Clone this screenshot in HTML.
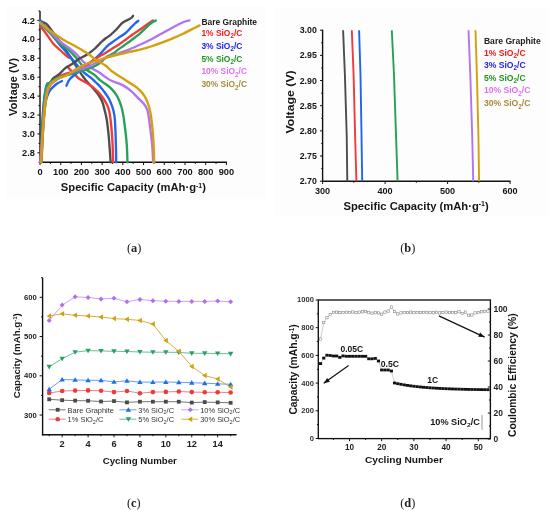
<!DOCTYPE html><html><head><meta charset="utf-8"><title>Figure</title><style>html,body{margin:0;padding:0;background:#fff;}svg{display:block;}</style></head><body>
<svg width="550" height="520" viewBox="0 0 550 520">
<rect width="550" height="520" fill="#ffffff"/>
<rect x="6" y="6.2" width="260" height="192.4" fill="#fdfdfd"/>
<rect x="274.5" y="7.6" width="273.5" height="208.1" fill="#fdfdfd"/>
<line x1="40" y1="11" x2="40" y2="163" stroke="#111" stroke-width="1.4"/>
<line x1="39.3" y1="162.3" x2="227" y2="162.3" stroke="#111" stroke-width="1.4"/>
<line x1="40" y1="162.3" x2="40" y2="165.1" stroke="#111" stroke-width="1"/>
<line x1="50.36" y1="162.3" x2="50.36" y2="163.9" stroke="#111" stroke-width="1"/>
<line x1="60.71" y1="162.3" x2="60.71" y2="165.1" stroke="#111" stroke-width="1"/>
<line x1="71.06" y1="162.3" x2="71.06" y2="163.9" stroke="#111" stroke-width="1"/>
<line x1="81.42" y1="162.3" x2="81.42" y2="165.1" stroke="#111" stroke-width="1"/>
<line x1="91.78" y1="162.3" x2="91.78" y2="163.9" stroke="#111" stroke-width="1"/>
<line x1="102.13" y1="162.3" x2="102.13" y2="165.1" stroke="#111" stroke-width="1"/>
<line x1="112.48" y1="162.3" x2="112.48" y2="163.9" stroke="#111" stroke-width="1"/>
<line x1="122.84" y1="162.3" x2="122.84" y2="165.1" stroke="#111" stroke-width="1"/>
<line x1="133.19" y1="162.3" x2="133.19" y2="163.9" stroke="#111" stroke-width="1"/>
<line x1="143.55" y1="162.3" x2="143.55" y2="165.1" stroke="#111" stroke-width="1"/>
<line x1="153.91" y1="162.3" x2="153.91" y2="163.9" stroke="#111" stroke-width="1"/>
<line x1="164.26" y1="162.3" x2="164.26" y2="165.1" stroke="#111" stroke-width="1"/>
<line x1="174.62" y1="162.3" x2="174.62" y2="163.9" stroke="#111" stroke-width="1"/>
<line x1="184.97" y1="162.3" x2="184.97" y2="165.1" stroke="#111" stroke-width="1"/>
<line x1="195.33" y1="162.3" x2="195.33" y2="163.9" stroke="#111" stroke-width="1"/>
<line x1="205.68" y1="162.3" x2="205.68" y2="165.1" stroke="#111" stroke-width="1"/>
<line x1="216.03" y1="162.3" x2="216.03" y2="163.9" stroke="#111" stroke-width="1"/>
<line x1="226.39" y1="162.3" x2="226.39" y2="165.1" stroke="#111" stroke-width="1"/>
<line x1="38.5" y1="162.3" x2="40" y2="162.3" stroke="#111" stroke-width="1"/>
<line x1="37.4" y1="152.84" x2="40" y2="152.84" stroke="#111" stroke-width="1"/>
<line x1="38.5" y1="143.38" x2="40" y2="143.38" stroke="#111" stroke-width="1"/>
<line x1="37.4" y1="133.92" x2="40" y2="133.92" stroke="#111" stroke-width="1"/>
<line x1="38.5" y1="124.46" x2="40" y2="124.46" stroke="#111" stroke-width="1"/>
<line x1="37.4" y1="115" x2="40" y2="115" stroke="#111" stroke-width="1"/>
<line x1="38.5" y1="105.54" x2="40" y2="105.54" stroke="#111" stroke-width="1"/>
<line x1="37.4" y1="96.08" x2="40" y2="96.08" stroke="#111" stroke-width="1"/>
<line x1="38.5" y1="86.62" x2="40" y2="86.62" stroke="#111" stroke-width="1"/>
<line x1="37.4" y1="77.16" x2="40" y2="77.16" stroke="#111" stroke-width="1"/>
<line x1="38.5" y1="67.7" x2="40" y2="67.7" stroke="#111" stroke-width="1"/>
<line x1="37.4" y1="58.24" x2="40" y2="58.24" stroke="#111" stroke-width="1"/>
<line x1="38.5" y1="48.78" x2="40" y2="48.78" stroke="#111" stroke-width="1"/>
<line x1="37.4" y1="39.32" x2="40" y2="39.32" stroke="#111" stroke-width="1"/>
<line x1="38.5" y1="29.86" x2="40" y2="29.86" stroke="#111" stroke-width="1"/>
<line x1="37.4" y1="20.4" x2="40" y2="20.4" stroke="#111" stroke-width="1"/>
<line x1="38.5" y1="10.94" x2="40" y2="10.94" stroke="#111" stroke-width="1"/>
<text transform="translate(34.8,23.5) scale(1.07,1)" font-size="8.6" font-weight="bold" fill="#161616" text-anchor="end" font-family="'Liberation Sans', Arial, sans-serif">4.2</text>
<text transform="translate(34.8,42.42) scale(1.07,1)" font-size="8.6" font-weight="bold" fill="#161616" text-anchor="end" font-family="'Liberation Sans', Arial, sans-serif">4.0</text>
<text transform="translate(34.8,61.34) scale(1.07,1)" font-size="8.6" font-weight="bold" fill="#161616" text-anchor="end" font-family="'Liberation Sans', Arial, sans-serif">3.8</text>
<text transform="translate(34.8,80.26) scale(1.07,1)" font-size="8.6" font-weight="bold" fill="#161616" text-anchor="end" font-family="'Liberation Sans', Arial, sans-serif">3.6</text>
<text transform="translate(34.8,99.18) scale(1.07,1)" font-size="8.6" font-weight="bold" fill="#161616" text-anchor="end" font-family="'Liberation Sans', Arial, sans-serif">3.4</text>
<text transform="translate(34.8,118.1) scale(1.07,1)" font-size="8.6" font-weight="bold" fill="#161616" text-anchor="end" font-family="'Liberation Sans', Arial, sans-serif">3.2</text>
<text transform="translate(34.8,137.02) scale(1.07,1)" font-size="8.6" font-weight="bold" fill="#161616" text-anchor="end" font-family="'Liberation Sans', Arial, sans-serif">3.0</text>
<text transform="translate(34.8,155.94) scale(1.07,1)" font-size="8.6" font-weight="bold" fill="#161616" text-anchor="end" font-family="'Liberation Sans', Arial, sans-serif">2.8</text>
<text transform="translate(40,174.7) scale(1.08,1)" font-size="8.6" font-weight="bold" fill="#161616" text-anchor="middle" font-family="'Liberation Sans', Arial, sans-serif">0</text>
<text transform="translate(60.71,174.7) scale(1.08,1)" font-size="8.6" font-weight="bold" fill="#161616" text-anchor="middle" font-family="'Liberation Sans', Arial, sans-serif">100</text>
<text transform="translate(81.42,174.7) scale(1.08,1)" font-size="8.6" font-weight="bold" fill="#161616" text-anchor="middle" font-family="'Liberation Sans', Arial, sans-serif">200</text>
<text transform="translate(102.13,174.7) scale(1.08,1)" font-size="8.6" font-weight="bold" fill="#161616" text-anchor="middle" font-family="'Liberation Sans', Arial, sans-serif">300</text>
<text transform="translate(122.84,174.7) scale(1.08,1)" font-size="8.6" font-weight="bold" fill="#161616" text-anchor="middle" font-family="'Liberation Sans', Arial, sans-serif">400</text>
<text transform="translate(143.55,174.7) scale(1.08,1)" font-size="8.6" font-weight="bold" fill="#161616" text-anchor="middle" font-family="'Liberation Sans', Arial, sans-serif">500</text>
<text transform="translate(164.26,174.7) scale(1.08,1)" font-size="8.6" font-weight="bold" fill="#161616" text-anchor="middle" font-family="'Liberation Sans', Arial, sans-serif">600</text>
<text transform="translate(184.97,174.7) scale(1.08,1)" font-size="8.6" font-weight="bold" fill="#161616" text-anchor="middle" font-family="'Liberation Sans', Arial, sans-serif">700</text>
<text transform="translate(205.68,174.7) scale(1.08,1)" font-size="8.6" font-weight="bold" fill="#161616" text-anchor="middle" font-family="'Liberation Sans', Arial, sans-serif">800</text>
<text transform="translate(226.39,174.7) scale(1.08,1)" font-size="8.6" font-weight="bold" fill="#161616" text-anchor="middle" font-family="'Liberation Sans', Arial, sans-serif">900</text>
<text transform="translate(60.8,191) scale(1.1,1)" font-size="10.2" font-weight="bold" fill="#161616" text-anchor="start" font-family="'Liberation Sans', Arial, sans-serif">Specific Capacity (mAh&#183;g<tspan font-size="0.62em" dy="-0.55em">-1</tspan><tspan dy="0.341em">)</tspan></text>
<text transform="translate(17.3,116.1) rotate(-90) scale(1.13,1)" font-size="10" font-weight="bold" fill="#161616" text-anchor="start" font-family="'Liberation Sans', Arial, sans-serif">Voltage (V)</text>
<path d="M40,21.5 C40.58,21.63 42.3,21.78 43.5,22.3 C44.7,22.82 45.78,23.15 47.2,24.6 C48.62,26.05 50.2,28.6 52,31 C53.8,33.4 55.67,35.75 58,39 C60.33,42.25 63.5,46.83 66,50.5 C68.5,54.17 70.85,57.63 73,61 C75.15,64.37 76.73,67.45 78.9,70.7 C81.07,73.95 83.82,77.78 86,80.5 C88.18,83.22 90.08,84.83 92,87 C93.92,89.17 95.83,91.17 97.5,93.5 C99.17,95.83 100.78,98.12 102,101 C103.22,103.88 104,107.63 104.8,110.8 C105.6,113.97 106.17,115.97 106.8,120 C107.43,124.03 108.1,130 108.6,135 C109.1,140 109.47,145.45 109.8,150 C110.13,154.55 110.47,160.25 110.6,162.3" fill="none" stroke="#4d4d4d" stroke-width="2.35" stroke-linecap="round" stroke-linejoin="round"/>
<path d="M40.3,26.2 C41.25,27.42 43.82,30.57 46,33.5 C48.18,36.43 51.07,41.05 53.4,43.8 C55.73,46.55 58.07,48.22 60,50 C61.93,51.78 63.47,53.2 65,54.5 C66.53,55.8 68.5,57.25 69.2,57.8" fill="none" stroke="#f23a3a" stroke-width="2.35" stroke-linecap="round" stroke-linejoin="round"/>
<path d="M67.5,66.7 C67.92,67.17 69.08,68.48 70,69.5 C70.92,70.52 71.92,71.67 73,72.8 C74.08,73.93 75.33,75.22 76.5,76.3 C77.67,77.38 78.35,78.22 80,79.3 C81.65,80.38 84.43,81.62 86.4,82.8 C88.37,83.98 90.2,85.2 91.8,86.4 C93.4,87.6 94.63,88.73 96,90 C97.37,91.27 98.57,92.27 100,94 C101.43,95.73 103.25,98.18 104.6,100.4 C105.95,102.62 107.23,105 108.1,107.3 C108.97,109.6 109.38,112.08 109.8,114.2 C110.22,116.32 110.27,117.03 110.6,120 C110.93,122.97 111.47,127.83 111.8,132 C112.13,136.17 112.38,139.95 112.6,145 C112.82,150.05 113.02,159.42 113.1,162.3" fill="none" stroke="#f23a3a" stroke-width="2.35" stroke-linecap="round" stroke-linejoin="round"/>
<path d="M40,20 C41.67,22.08 46.67,28.33 50,32.5 C53.33,36.67 57.57,42.08 60,45 C62.43,47.92 62.93,48.08 64.6,50 C66.27,51.92 68.27,54.42 70,56.5 C71.73,58.58 73.5,60.7 75,62.5 C76.5,64.3 77.4,65.53 79,67.3 C80.6,69.07 82.63,71.37 84.6,73.1 C86.57,74.83 88.9,76.13 90.8,77.7 C92.7,79.27 94.47,81.03 96,82.5 C97.53,83.97 98.57,84.87 100,86.5 C101.43,88.13 103.07,90.18 104.6,92.3 C106.13,94.42 107.88,96.7 109.2,99.2 C110.52,101.7 111.67,104.8 112.5,107.3 C113.33,109.8 113.8,112.08 114.2,114.2 C114.6,116.32 114.67,116.53 114.9,120 C115.13,123.47 115.42,130 115.6,135 C115.78,140 115.9,145.45 116,150 C116.1,154.55 116.17,160.25 116.2,162.3" fill="none" stroke="#1f66ee" stroke-width="2.35" stroke-linecap="round" stroke-linejoin="round"/>
<path d="M40,23.8 C41.67,25.33 46.67,29.67 50,33 C53.33,36.33 57.05,41.1 60,43.8 C62.95,46.5 65.13,47.02 67.7,49.2 C70.27,51.38 73.1,54.33 75.4,56.9 C77.7,59.47 79.58,62.42 81.5,64.6 C83.42,66.78 84.72,68.27 86.9,70 C89.08,71.73 92.42,73.3 94.6,75 C96.78,76.7 98.13,78.67 100,80.2 C101.87,81.73 103.88,82.77 105.8,84.2 C107.72,85.63 109.77,87.07 111.5,88.8 C113.23,90.53 114.85,92.48 116.2,94.6 C117.55,96.72 118.65,99.18 119.6,101.5 C120.55,103.82 121.28,106.18 121.9,108.5 C122.52,110.82 122.95,113.48 123.3,115.4 C123.65,117.32 123.63,117.23 124,120 C124.37,122.77 125.03,127.83 125.5,132 C125.97,136.17 126.47,139.95 126.8,145 C127.13,150.05 127.38,159.42 127.5,162.3" fill="none" stroke="#27a157" stroke-width="2.35" stroke-linecap="round" stroke-linejoin="round"/>
<path d="M40,23 C41.67,24.42 46.67,28.42 50,31.5 C53.33,34.58 57.05,38.93 60,41.5 C62.95,44.07 65.13,44.97 67.7,46.9 C70.27,48.83 72.83,50.67 75.4,53.1 C77.97,55.53 80.53,59.07 83.1,61.5 C85.67,63.93 87.98,65.78 90.8,67.7 C93.62,69.62 97.5,71.4 100,73 C102.5,74.6 103.88,76 105.8,77.3 C107.72,78.6 108.62,79.45 111.5,80.8 C114.38,82.15 119.82,83.67 123.1,85.4 C126.38,87.13 128.7,89.08 131.2,91.2 C133.7,93.32 136,96 138.1,98.1 C140.2,100.2 142.28,101.88 143.8,103.8 C145.32,105.72 146.42,107.67 147.2,109.6 C147.98,111.53 148.17,113.67 148.5,115.4 C148.83,117.13 148.83,117.23 149.2,120 C149.57,122.77 150.2,127.83 150.7,132 C151.2,136.17 151.78,139.95 152.2,145 C152.62,150.05 153.03,159.42 153.2,162.3" fill="none" stroke="#b473ee" stroke-width="2.35" stroke-linecap="round" stroke-linejoin="round"/>
<path d="M40.6,162.3 C40.83,156.58 41.43,138.22 42,128 C42.57,117.78 43.3,107.5 44,101 C44.7,94.5 45.28,91.83 46.2,89 C47.12,86.17 48.3,85.82 49.5,84 C50.7,82.18 51.73,79.77 53.4,78.1 C55.07,76.43 57.57,75.63 59.5,74 C61.43,72.37 62.97,69.93 65,68.3 C67.03,66.67 69.33,65.78 71.7,64.2 C74.07,62.62 77.15,60.12 79.2,58.8 C81.25,57.48 82.33,57.25 84,56.3 C85.67,55.35 87.37,54.4 89.2,53.1 C91.03,51.8 92.88,50.43 95,48.5 C97.12,46.57 100.07,43.25 101.9,41.5 C103.73,39.75 104.65,39.03 106,38 C107.35,36.97 108.37,36.63 110,35.3 C111.63,33.97 113.88,31.93 115.8,30 C117.72,28.07 119.97,25.17 121.5,23.7 C123.03,22.23 123.83,21.88 125,21.2 C126.17,20.52 127.35,20.25 128.5,19.6 C129.65,18.95 131.13,17.93 131.9,17.3 C132.67,16.67 132.9,16.05 133.1,15.8" fill="none" stroke="#4d4d4d" stroke-width="2.35" stroke-linecap="round" stroke-linejoin="round"/>
<path d="M41.5,162.3 C41.78,156.58 42.55,137.72 43.2,128 C43.85,118.28 44.67,109.43 45.4,104 C46.13,98.57 46.83,97.65 47.6,95.4 C48.37,93.15 49.2,91.8 50,90.5 C50.8,89.2 51.2,88.77 52.4,87.6 C53.6,86.43 55.6,84.6 57.2,83.5 C58.8,82.4 61.2,81.42 62,81" fill="none" stroke="#1f66ee" stroke-width="2.35" stroke-linecap="round" stroke-linejoin="round"/>
<path d="M66.4,85.8 C66.72,85.08 67.58,82.78 68.3,81.5 C69.02,80.22 69.33,79.43 70.7,78.1 C72.07,76.77 74.62,75.02 76.5,73.5 C78.38,71.98 79.95,70.62 82,69 C84.05,67.38 86.97,65.22 88.8,63.8 C90.63,62.38 91.22,62.03 93,60.5 C94.78,58.97 97.25,56.88 99.5,54.6 C101.75,52.32 104.6,48.7 106.5,46.8 C108.4,44.9 108.97,44.65 110.9,43.2 C112.83,41.75 115.75,39.72 118.1,38.1 C120.45,36.48 122.88,35.23 125,33.5 C127.12,31.77 129.13,29.37 130.8,27.7 C132.47,26.03 133.75,24.65 135,23.5 C136.25,22.35 137.75,21.25 138.3,20.8" fill="none" stroke="#1f66ee" stroke-width="2.35" stroke-linecap="round" stroke-linejoin="round"/>
<path d="M41.3,162.3 C41.67,155.58 42.72,132.72 43.5,122 C44.28,111.28 45.08,103.67 46,98 C46.92,92.33 48.25,90.25 49,88 C49.75,85.75 49.33,86 50.5,84.5 C51.67,83 54.08,80.55 56,79 C57.92,77.45 59.38,76.4 62,75.2 C64.62,74 68.48,73.08 71.7,71.8 C74.92,70.52 77.95,69.23 81.3,67.5 C84.65,65.77 88.93,63.15 91.8,61.4 C94.67,59.65 96.3,58.37 98.5,57 C100.7,55.63 102.7,54.62 105,53.2 C107.3,51.78 109.97,49.95 112.3,48.5 C114.63,47.05 116.68,46.05 119,44.5 C121.32,42.95 123.87,40.92 126.2,39.2 C128.53,37.48 130.5,35.93 133,34.2 C135.5,32.47 138.87,30.42 141.2,28.8 C143.53,27.18 145.05,25.9 147,24.5 C148.95,23.1 151.92,21.08 152.9,20.4" fill="none" stroke="#f23a3a" stroke-width="2.35" stroke-linecap="round" stroke-linejoin="round"/>
<path d="M40.9,162.3 C41.18,156.08 42.12,134.55 42.6,125 C43.08,115.45 43.33,110.83 43.8,105 C44.27,99.17 44.85,93.53 45.4,90 C45.95,86.47 46.42,85.02 47.1,83.8 C47.78,82.58 47.82,83.65 49.5,82.7 C51.18,81.75 54.32,79.35 57.2,78.1 C60.08,76.85 63.58,76.13 66.8,75.2 C70.02,74.27 73.4,73.37 76.5,72.5 C79.6,71.63 82.77,70.87 85.4,70 C88.03,69.13 89.87,68.47 92.3,67.3 C94.73,66.13 97.63,64.72 100,63 C102.37,61.28 104.23,58.63 106.5,57 C108.77,55.37 111.67,54.43 113.6,53.2 C115.53,51.97 116.37,50.88 118.1,49.6 C119.83,48.32 122.08,46.85 124,45.5 C125.92,44.15 127.68,42.92 129.6,41.5 C131.52,40.08 133.57,38.53 135.5,37 C137.43,35.47 139.1,34.17 141.2,32.3 C143.3,30.43 146.3,27.43 148.1,25.8 C149.9,24.17 150.72,23.38 152,22.5 C153.28,21.62 155.17,20.83 155.8,20.5" fill="none" stroke="#27a157" stroke-width="2.35" stroke-linecap="round" stroke-linejoin="round"/>
<path d="M40.3,162.3 C40.63,157.75 41.62,144.05 42.3,135 C42.98,125.95 43.75,114.67 44.4,108 C45.05,101.33 45.5,98.55 46.2,95 C46.9,91.45 46.77,89.28 48.6,86.7 C50.43,84.12 54.17,81.45 57.2,79.5 C60.23,77.55 63.77,76.45 66.8,75 C69.83,73.55 72.05,72.15 75.4,70.8 C78.75,69.45 83.63,68.12 86.9,66.9 C90.17,65.68 91.73,65.03 95,63.5 C98.27,61.97 102.65,59.37 106.5,57.7 C110.35,56.03 114.25,54.9 118.1,53.5 C121.95,52.1 125.78,50.83 129.6,49.3 C133.42,47.77 137.45,45.93 141,44.3 C144.55,42.67 147.43,41.3 150.9,39.5 C154.37,37.7 158.17,35.5 161.8,33.5 C165.43,31.5 169.07,29.42 172.7,27.5 C176.33,25.58 180.82,23.18 183.6,22 C186.38,20.82 188.43,20.67 189.4,20.4" fill="none" stroke="#b473ee" stroke-width="2.35" stroke-linecap="round" stroke-linejoin="round"/>
<path d="M41.2,162.3 C41.5,156.92 42.33,139.55 43,130 C43.67,120.45 44.43,111.42 45.2,105 C45.97,98.58 46.72,95.03 47.6,91.5 C48.48,87.97 48.9,85.88 50.5,83.8 C52.1,81.72 54.48,80.43 57.2,79 C59.92,77.57 63.77,76.78 66.8,75.2 C69.83,73.62 72.68,71.13 75.4,69.5 C78.12,67.87 80.53,66.6 83.1,65.4 C85.67,64.2 87.98,63.23 90.8,62.3 C93.62,61.37 97.38,60.6 100,59.8 C102.62,59 103.48,58.38 106.5,57.5 C109.52,56.62 114.25,55.43 118.1,54.5 C121.95,53.57 125.78,52.75 129.6,51.9 C133.42,51.05 137.45,50.3 141,49.4 C144.55,48.5 147.43,47.62 150.9,46.5 C154.37,45.38 158.17,44.05 161.8,42.7 C165.43,41.35 169.07,39.93 172.7,38.4 C176.33,36.87 179.97,35.23 183.6,33.5 C187.23,31.77 191.83,29.35 194.5,28 C197.17,26.65 198.75,25.83 199.6,25.4" fill="none" stroke="#d3a00c" stroke-width="2.35" stroke-linecap="round" stroke-linejoin="round"/>
<path d="M40,22.3 C41,23.17 43.77,25.72 46,27.5 C48.23,29.28 50.43,30.92 53.4,33 C56.37,35.08 60.13,37.8 63.8,40 C67.47,42.2 71.55,44.02 75.4,46.2 C79.25,48.38 83.43,50.8 86.9,53.1 C90.37,55.4 94.02,58.47 96.2,60 C98.38,61.53 98.4,61.33 100,62.3 C101.6,63.27 103.88,64.35 105.8,65.8 C107.72,67.25 109.58,69.47 111.5,71 C113.42,72.53 115.37,73.75 117.3,75 C119.23,76.25 120.98,77.15 123.1,78.5 C125.22,79.85 127.7,81.57 130,83.1 C132.3,84.63 134.78,85.97 136.9,87.7 C139.02,89.43 141.15,91.58 142.7,93.5 C144.25,95.42 145.18,97.12 146.2,99.2 C147.22,101.28 148.08,103.7 148.8,106 C149.52,108.3 150.05,110.67 150.5,113 C150.95,115.33 151.08,116.33 151.5,120 C151.92,123.67 152.62,130 153,135 C153.38,140 153.6,145.45 153.8,150 C154,154.55 154.13,160.25 154.2,162.3" fill="none" stroke="#d3a00c" stroke-width="2.35" stroke-linecap="round" stroke-linejoin="round"/>
<text transform="translate(201.4,24.7) scale(0.98,1)" font-size="8.6" font-weight="bold" fill="#222222" text-anchor="start" font-family="'Liberation Sans', Arial, sans-serif">Bare Graphite</text>
<text transform="translate(201.4,36) scale(0.98,1)" font-size="8.6" font-weight="bold" fill="#f01818" text-anchor="start" font-family="'Liberation Sans', Arial, sans-serif">1% SiO<tspan font-size="0.74em" dy="0.34em">2</tspan><tspan dy="-0.2516em">/C</tspan></text>
<text transform="translate(201.4,48.6) scale(0.98,1)" font-size="8.6" font-weight="bold" fill="#2323e6" text-anchor="start" font-family="'Liberation Sans', Arial, sans-serif">3% SiO<tspan font-size="0.74em" dy="0.34em">2</tspan><tspan dy="-0.2516em">/C</tspan></text>
<text transform="translate(201.4,61.6) scale(0.98,1)" font-size="8.6" font-weight="bold" fill="#1f961f" text-anchor="start" font-family="'Liberation Sans', Arial, sans-serif">5% SiO<tspan font-size="0.74em" dy="0.34em">2</tspan><tspan dy="-0.2516em">/C</tspan></text>
<text transform="translate(201.4,74.4) scale(0.98,1)" font-size="8.6" font-weight="bold" fill="#e070f0" text-anchor="start" font-family="'Liberation Sans', Arial, sans-serif">10% SiO<tspan font-size="0.74em" dy="0.34em">2</tspan><tspan dy="-0.2516em">/C</tspan></text>
<text transform="translate(201.4,87.4) scale(0.98,1)" font-size="8.6" font-weight="bold" fill="#a8883a" text-anchor="start" font-family="'Liberation Sans', Arial, sans-serif">30% SiO<tspan font-size="0.74em" dy="0.34em">2</tspan><tspan dy="-0.2516em">/C</tspan></text>
<line x1="322.6" y1="29.7" x2="322.6" y2="181.9" stroke="#111" stroke-width="1.4"/>
<line x1="321.9" y1="181.2" x2="510.5" y2="181.2" stroke="#111" stroke-width="1.4"/>
<line x1="320" y1="181.2" x2="322.6" y2="181.2" stroke="#111" stroke-width="1"/>
<text transform="translate(316.8,184.2) scale(1.05,1)" font-size="8.4" font-weight="bold" fill="#161616" text-anchor="end" font-family="'Liberation Sans', Arial, sans-serif">2.70</text>
<line x1="321.2" y1="168.62" x2="322.6" y2="168.62" stroke="#111" stroke-width="1"/>
<line x1="320" y1="156.04" x2="322.6" y2="156.04" stroke="#111" stroke-width="1"/>
<text transform="translate(316.8,159.04) scale(1.05,1)" font-size="8.4" font-weight="bold" fill="#161616" text-anchor="end" font-family="'Liberation Sans', Arial, sans-serif">2.75</text>
<line x1="321.2" y1="143.45" x2="322.6" y2="143.45" stroke="#111" stroke-width="1"/>
<line x1="320" y1="130.87" x2="322.6" y2="130.87" stroke="#111" stroke-width="1"/>
<text transform="translate(316.8,133.87) scale(1.05,1)" font-size="8.4" font-weight="bold" fill="#161616" text-anchor="end" font-family="'Liberation Sans', Arial, sans-serif">2.80</text>
<line x1="321.2" y1="118.29" x2="322.6" y2="118.29" stroke="#111" stroke-width="1"/>
<line x1="320" y1="105.71" x2="322.6" y2="105.71" stroke="#111" stroke-width="1"/>
<text transform="translate(316.8,108.71) scale(1.05,1)" font-size="8.4" font-weight="bold" fill="#161616" text-anchor="end" font-family="'Liberation Sans', Arial, sans-serif">2.85</text>
<line x1="321.2" y1="93.12" x2="322.6" y2="93.12" stroke="#111" stroke-width="1"/>
<line x1="320" y1="80.54" x2="322.6" y2="80.54" stroke="#111" stroke-width="1"/>
<text transform="translate(316.8,83.54) scale(1.05,1)" font-size="8.4" font-weight="bold" fill="#161616" text-anchor="end" font-family="'Liberation Sans', Arial, sans-serif">2.90</text>
<line x1="321.2" y1="67.96" x2="322.6" y2="67.96" stroke="#111" stroke-width="1"/>
<line x1="320" y1="55.37" x2="322.6" y2="55.37" stroke="#111" stroke-width="1"/>
<text transform="translate(316.8,58.37) scale(1.05,1)" font-size="8.4" font-weight="bold" fill="#161616" text-anchor="end" font-family="'Liberation Sans', Arial, sans-serif">2.95</text>
<line x1="321.2" y1="42.79" x2="322.6" y2="42.79" stroke="#111" stroke-width="1"/>
<line x1="320" y1="30.21" x2="322.6" y2="30.21" stroke="#111" stroke-width="1"/>
<text transform="translate(316.8,33.21) scale(1.05,1)" font-size="8.4" font-weight="bold" fill="#161616" text-anchor="end" font-family="'Liberation Sans', Arial, sans-serif">3.00</text>
<line x1="322.6" y1="181.2" x2="322.6" y2="184" stroke="#111" stroke-width="1"/>
<line x1="353.85" y1="181.2" x2="353.85" y2="182.8" stroke="#111" stroke-width="1"/>
<line x1="385.1" y1="181.2" x2="385.1" y2="184" stroke="#111" stroke-width="1"/>
<line x1="416.35" y1="181.2" x2="416.35" y2="182.8" stroke="#111" stroke-width="1"/>
<line x1="447.6" y1="181.2" x2="447.6" y2="184" stroke="#111" stroke-width="1"/>
<line x1="478.85" y1="181.2" x2="478.85" y2="182.8" stroke="#111" stroke-width="1"/>
<line x1="510.1" y1="181.2" x2="510.1" y2="184" stroke="#111" stroke-width="1"/>
<text transform="translate(322.6,193.5)" font-size="9.1" font-weight="bold" fill="#161616" text-anchor="middle" font-family="'Liberation Sans', Arial, sans-serif">300</text>
<text transform="translate(385.1,193.5)" font-size="9.1" font-weight="bold" fill="#161616" text-anchor="middle" font-family="'Liberation Sans', Arial, sans-serif">400</text>
<text transform="translate(447.6,193.5)" font-size="9.1" font-weight="bold" fill="#161616" text-anchor="middle" font-family="'Liberation Sans', Arial, sans-serif">500</text>
<text transform="translate(510.1,193.5)" font-size="9.1" font-weight="bold" fill="#161616" text-anchor="middle" font-family="'Liberation Sans', Arial, sans-serif">600</text>
<text transform="translate(343.5,209.7) scale(1.06,1)" font-size="10.6" font-weight="bold" fill="#161616" text-anchor="start" font-family="'Liberation Sans', Arial, sans-serif">Specific Capacity (mAh&#183;g<tspan font-size="0.62em" dy="-0.55em">-1</tspan><tspan dy="0.341em">)</tspan></text>
<text transform="translate(294.2,133.6) rotate(-90) scale(1.15,1)" font-size="10.7" font-weight="bold" fill="#161616" text-anchor="start" font-family="'Liberation Sans', Arial, sans-serif">Voltage (V)</text>
<polyline points="343.1,30.2 344.9,75 346.7,135 347.3,181.2" fill="none" stroke="#4d4d4d" stroke-width="1.9" stroke-linejoin="round"/>
<polyline points="351.8,30.2 353.6,75 355.1,135 356.4,181.2" fill="none" stroke="#f23a3a" stroke-width="1.9" stroke-linejoin="round"/>
<polyline points="359.1,30.2 360.5,75 361.5,135 362.2,181.2" fill="none" stroke="#1f66ee" stroke-width="1.9" stroke-linejoin="round"/>
<polyline points="391.8,30.2 394,75 396,135 397.6,181.2" fill="none" stroke="#27a157" stroke-width="1.9" stroke-linejoin="round"/>
<polyline points="468.5,30.2 470.3,75 472.2,135 473.2,181.2" fill="none" stroke="#b473ee" stroke-width="1.9" stroke-linejoin="round"/>
<polyline points="475.5,30.2 476.9,75 478.4,135 479.1,181.2" fill="none" stroke="#d3a00c" stroke-width="1.9" stroke-linejoin="round"/>
<text transform="translate(483.9,43.8)" font-size="8.6" font-weight="bold" fill="#222222" text-anchor="start" font-family="'Liberation Sans', Arial, sans-serif">Bare Graphite</text>
<text transform="translate(483.9,55.6)" font-size="8.6" font-weight="bold" fill="#f01818" text-anchor="start" font-family="'Liberation Sans', Arial, sans-serif">1% SiO<tspan font-size="0.74em" dy="0.34em">2</tspan><tspan dy="-0.2516em">/C</tspan></text>
<text transform="translate(483.9,68)" font-size="8.6" font-weight="bold" fill="#2323e6" text-anchor="start" font-family="'Liberation Sans', Arial, sans-serif">3% SiO<tspan font-size="0.74em" dy="0.34em">2</tspan><tspan dy="-0.2516em">/C</tspan></text>
<text transform="translate(483.9,80.8)" font-size="8.6" font-weight="bold" fill="#1f961f" text-anchor="start" font-family="'Liberation Sans', Arial, sans-serif">5% SiO<tspan font-size="0.74em" dy="0.34em">2</tspan><tspan dy="-0.2516em">/C</tspan></text>
<text transform="translate(483.9,93.4)" font-size="8.6" font-weight="bold" fill="#e070f0" text-anchor="start" font-family="'Liberation Sans', Arial, sans-serif">10% SiO<tspan font-size="0.74em" dy="0.34em">2</tspan><tspan dy="-0.2516em">/C</tspan></text>
<text transform="translate(483.9,106.4)" font-size="8.6" font-weight="bold" fill="#a8883a" text-anchor="start" font-family="'Liberation Sans', Arial, sans-serif">30% SiO<tspan font-size="0.74em" dy="0.34em">2</tspan><tspan dy="-0.2516em">/C</tspan></text>
<line x1="42.6" y1="277.68" x2="42.6" y2="435.38" stroke="#111" stroke-width="1.4"/>
<line x1="41.9" y1="434.68" x2="236.6" y2="434.68" stroke="#111" stroke-width="1.4"/>
<line x1="39.6" y1="415.05" x2="42.6" y2="415.05" stroke="#111" stroke-width="1"/>
<line x1="41.1" y1="395.43" x2="42.6" y2="395.43" stroke="#111" stroke-width="1"/>
<line x1="39.6" y1="375.8" x2="42.6" y2="375.8" stroke="#111" stroke-width="1"/>
<line x1="41.1" y1="356.18" x2="42.6" y2="356.18" stroke="#111" stroke-width="1"/>
<line x1="39.6" y1="336.55" x2="42.6" y2="336.55" stroke="#111" stroke-width="1"/>
<line x1="41.1" y1="316.93" x2="42.6" y2="316.93" stroke="#111" stroke-width="1"/>
<line x1="39.6" y1="297.3" x2="42.6" y2="297.3" stroke="#111" stroke-width="1"/>
<line x1="41.1" y1="277.68" x2="42.6" y2="277.68" stroke="#111" stroke-width="1"/>
<text transform="translate(36.8,417.55) scale(1.1,1)" font-size="7" font-weight="bold" fill="#222" text-anchor="end" font-family="'Liberation Sans', Arial, sans-serif">300</text>
<text transform="translate(36.8,378.3) scale(1.1,1)" font-size="7" font-weight="bold" fill="#222" text-anchor="end" font-family="'Liberation Sans', Arial, sans-serif">400</text>
<text transform="translate(36.8,339.05) scale(1.1,1)" font-size="7" font-weight="bold" fill="#222" text-anchor="end" font-family="'Liberation Sans', Arial, sans-serif">500</text>
<text transform="translate(36.8,299.8) scale(1.1,1)" font-size="7" font-weight="bold" fill="#222" text-anchor="end" font-family="'Liberation Sans', Arial, sans-serif">600</text>
<line x1="49.2" y1="434.68" x2="49.2" y2="436.18" stroke="#111" stroke-width="1"/>
<line x1="62.16" y1="434.68" x2="62.16" y2="437.28" stroke="#111" stroke-width="1"/>
<line x1="75.12" y1="434.68" x2="75.12" y2="436.18" stroke="#111" stroke-width="1"/>
<line x1="88.08" y1="434.68" x2="88.08" y2="437.28" stroke="#111" stroke-width="1"/>
<line x1="101.04" y1="434.68" x2="101.04" y2="436.18" stroke="#111" stroke-width="1"/>
<line x1="114" y1="434.68" x2="114" y2="437.28" stroke="#111" stroke-width="1"/>
<line x1="126.96" y1="434.68" x2="126.96" y2="436.18" stroke="#111" stroke-width="1"/>
<line x1="139.92" y1="434.68" x2="139.92" y2="437.28" stroke="#111" stroke-width="1"/>
<line x1="152.88" y1="434.68" x2="152.88" y2="436.18" stroke="#111" stroke-width="1"/>
<line x1="165.84" y1="434.68" x2="165.84" y2="437.28" stroke="#111" stroke-width="1"/>
<line x1="178.8" y1="434.68" x2="178.8" y2="436.18" stroke="#111" stroke-width="1"/>
<line x1="191.76" y1="434.68" x2="191.76" y2="437.28" stroke="#111" stroke-width="1"/>
<line x1="204.72" y1="434.68" x2="204.72" y2="436.18" stroke="#111" stroke-width="1"/>
<line x1="217.68" y1="434.68" x2="217.68" y2="437.28" stroke="#111" stroke-width="1"/>
<line x1="230.64" y1="434.68" x2="230.64" y2="436.18" stroke="#111" stroke-width="1"/>
<text transform="translate(62.16,447.4) scale(1.1,1)" font-size="8.4" font-weight="bold" fill="#222" text-anchor="middle" font-family="'Liberation Sans', Arial, sans-serif">2</text>
<text transform="translate(88.08,447.4) scale(1.1,1)" font-size="8.4" font-weight="bold" fill="#222" text-anchor="middle" font-family="'Liberation Sans', Arial, sans-serif">4</text>
<text transform="translate(114,447.4) scale(1.1,1)" font-size="8.4" font-weight="bold" fill="#222" text-anchor="middle" font-family="'Liberation Sans', Arial, sans-serif">6</text>
<text transform="translate(139.92,447.4) scale(1.1,1)" font-size="8.4" font-weight="bold" fill="#222" text-anchor="middle" font-family="'Liberation Sans', Arial, sans-serif">8</text>
<text transform="translate(165.84,447.4) scale(1.1,1)" font-size="8.4" font-weight="bold" fill="#222" text-anchor="middle" font-family="'Liberation Sans', Arial, sans-serif">10</text>
<text transform="translate(191.76,447.4) scale(1.1,1)" font-size="8.4" font-weight="bold" fill="#222" text-anchor="middle" font-family="'Liberation Sans', Arial, sans-serif">12</text>
<text transform="translate(217.68,447.4) scale(1.1,1)" font-size="8.4" font-weight="bold" fill="#222" text-anchor="middle" font-family="'Liberation Sans', Arial, sans-serif">14</text>
<text transform="translate(102.7,463.6) scale(1.01,1)" font-size="9.6" font-weight="bold" fill="#161616" text-anchor="start" font-family="'Liberation Sans', Arial, sans-serif">Cycling Number</text>
<text transform="translate(20.2,398.3) rotate(-90) scale(0.98,1)" font-size="9.9" font-weight="bold" fill="#161616" text-anchor="start" font-family="'Liberation Sans', Arial, sans-serif">Capacity (mAh.g<tspan font-size="0.62em" dy="-0.55em">-1</tspan><tspan dy="0.341em">)</tspan></text>
<polyline points="49.2,399.3 62.16,400.2 75.12,400.6 88.08,400.8 101.04,401.5 114,401.1 126.96,402.4 139.92,401.7 152.88,401.7 165.84,401.7 178.8,401.7 191.76,402.6 204.72,402.1 217.68,402.4 230.64,402.8" fill="none" stroke="#666" stroke-width="0.9" stroke-linejoin="round"/>
<polyline points="49.2,393 62.16,391 75.12,390.6 88.08,390.4 101.04,390.8 114,392.1 126.96,391 139.92,393.2 152.88,392.1 165.84,391.9 178.8,391.5 191.76,392.1 204.72,392.3 217.68,392.3 230.64,392.5" fill="none" stroke="#f07070" stroke-width="0.9" stroke-linejoin="round"/>
<polyline points="49.2,389.3 62.16,379.5 75.12,379.9 88.08,380.3 101.04,380.3 114,381.9 126.96,380.8 139.92,382.1 152.88,382.1 165.84,382 178.8,382.3 191.76,382.7 204.72,383.2 217.68,383.8 230.64,384.3" fill="none" stroke="#5a90ee" stroke-width="0.9" stroke-linejoin="round"/>
<polyline points="49.2,366.8 62.16,358.7 75.12,352.2 88.08,350.7 101.04,350.9 114,351.3 126.96,351.5 139.92,352 152.88,352.2 165.84,352.2 178.8,352.4 191.76,353.3 204.72,353.3 217.68,353.5 230.64,353.8" fill="none" stroke="#5ab88a" stroke-width="0.9" stroke-linejoin="round"/>
<polyline points="49.2,320.4 62.16,305.1 75.12,296.8 88.08,297.5 101.04,299 114,298.3 126.96,301.8 139.92,299.4 152.88,300.7 165.84,301.2 178.8,301.4 191.76,301.4 204.72,301.4 217.68,301 230.64,301.8" fill="none" stroke="#c49aee" stroke-width="0.9" stroke-linejoin="round"/>
<polyline points="49.2,316 62.16,313.8 75.12,315.3 88.08,316 101.04,317.1 114,318.6 126.96,319.3 139.92,320.4 152.88,324.1 165.84,340.4 178.8,351.3 191.76,366.4 204.72,375.5 217.68,379 230.64,387.1" fill="none" stroke="#d2a530" stroke-width="0.9" stroke-linejoin="round"/>
<rect x="47.3" y="397.4" width="3.8" height="3.8" fill="#4a4a4a"/>
<rect x="60.26" y="398.3" width="3.8" height="3.8" fill="#4a4a4a"/>
<rect x="73.22" y="398.7" width="3.8" height="3.8" fill="#4a4a4a"/>
<rect x="86.18" y="398.9" width="3.8" height="3.8" fill="#4a4a4a"/>
<rect x="99.14" y="399.6" width="3.8" height="3.8" fill="#4a4a4a"/>
<rect x="112.1" y="399.2" width="3.8" height="3.8" fill="#4a4a4a"/>
<rect x="125.06" y="400.5" width="3.8" height="3.8" fill="#4a4a4a"/>
<rect x="138.02" y="399.8" width="3.8" height="3.8" fill="#4a4a4a"/>
<rect x="150.98" y="399.8" width="3.8" height="3.8" fill="#4a4a4a"/>
<rect x="163.94" y="399.8" width="3.8" height="3.8" fill="#4a4a4a"/>
<rect x="176.9" y="399.8" width="3.8" height="3.8" fill="#4a4a4a"/>
<rect x="189.86" y="400.7" width="3.8" height="3.8" fill="#4a4a4a"/>
<rect x="202.82" y="400.2" width="3.8" height="3.8" fill="#4a4a4a"/>
<rect x="215.78" y="400.5" width="3.8" height="3.8" fill="#4a4a4a"/>
<rect x="228.74" y="400.9" width="3.8" height="3.8" fill="#4a4a4a"/>
<circle cx="49.2" cy="393" r="2.3" fill="#ec3a3a"/>
<circle cx="62.16" cy="391" r="2.3" fill="#ec3a3a"/>
<circle cx="75.12" cy="390.6" r="2.3" fill="#ec3a3a"/>
<circle cx="88.08" cy="390.4" r="2.3" fill="#ec3a3a"/>
<circle cx="101.04" cy="390.8" r="2.3" fill="#ec3a3a"/>
<circle cx="114" cy="392.1" r="2.3" fill="#ec3a3a"/>
<circle cx="126.96" cy="391" r="2.3" fill="#ec3a3a"/>
<circle cx="139.92" cy="393.2" r="2.3" fill="#ec3a3a"/>
<circle cx="152.88" cy="392.1" r="2.3" fill="#ec3a3a"/>
<circle cx="165.84" cy="391.9" r="2.3" fill="#ec3a3a"/>
<circle cx="178.8" cy="391.5" r="2.3" fill="#ec3a3a"/>
<circle cx="191.76" cy="392.1" r="2.3" fill="#ec3a3a"/>
<circle cx="204.72" cy="392.3" r="2.3" fill="#ec3a3a"/>
<circle cx="217.68" cy="392.3" r="2.3" fill="#ec3a3a"/>
<circle cx="230.64" cy="392.5" r="2.3" fill="#ec3a3a"/>
<polygon points="49.2,386.7 46.47,391.25 51.93,391.25" fill="#1f6fe6"/>
<polygon points="62.16,376.9 59.43,381.45 64.89,381.45" fill="#1f6fe6"/>
<polygon points="75.12,377.3 72.39,381.85 77.85,381.85" fill="#1f6fe6"/>
<polygon points="88.08,377.7 85.35,382.25 90.81,382.25" fill="#1f6fe6"/>
<polygon points="101.04,377.7 98.31,382.25 103.77,382.25" fill="#1f6fe6"/>
<polygon points="114,379.3 111.27,383.85 116.73,383.85" fill="#1f6fe6"/>
<polygon points="126.96,378.2 124.23,382.75 129.69,382.75" fill="#1f6fe6"/>
<polygon points="139.92,379.5 137.19,384.05 142.65,384.05" fill="#1f6fe6"/>
<polygon points="152.88,379.5 150.15,384.05 155.61,384.05" fill="#1f6fe6"/>
<polygon points="165.84,379.4 163.11,383.95 168.57,383.95" fill="#1f6fe6"/>
<polygon points="178.8,379.7 176.07,384.25 181.53,384.25" fill="#1f6fe6"/>
<polygon points="191.76,380.1 189.03,384.65 194.49,384.65" fill="#1f6fe6"/>
<polygon points="204.72,380.6 201.99,385.15 207.45,385.15" fill="#1f6fe6"/>
<polygon points="217.68,381.2 214.95,385.75 220.41,385.75" fill="#1f6fe6"/>
<polygon points="230.64,381.7 227.91,386.25 233.37,386.25" fill="#1f6fe6"/>
<polygon points="49.2,369.4 46.47,364.85 51.93,364.85" fill="#2aa066"/>
<polygon points="62.16,361.3 59.43,356.75 64.89,356.75" fill="#2aa066"/>
<polygon points="75.12,354.8 72.39,350.25 77.85,350.25" fill="#2aa066"/>
<polygon points="88.08,353.3 85.35,348.75 90.81,348.75" fill="#2aa066"/>
<polygon points="101.04,353.5 98.31,348.95 103.77,348.95" fill="#2aa066"/>
<polygon points="114,353.9 111.27,349.35 116.73,349.35" fill="#2aa066"/>
<polygon points="126.96,354.1 124.23,349.55 129.69,349.55" fill="#2aa066"/>
<polygon points="139.92,354.6 137.19,350.05 142.65,350.05" fill="#2aa066"/>
<polygon points="152.88,354.8 150.15,350.25 155.61,350.25" fill="#2aa066"/>
<polygon points="165.84,354.8 163.11,350.25 168.57,350.25" fill="#2aa066"/>
<polygon points="178.8,355 176.07,350.45 181.53,350.45" fill="#2aa066"/>
<polygon points="191.76,355.9 189.03,351.35 194.49,351.35" fill="#2aa066"/>
<polygon points="204.72,355.9 201.99,351.35 207.45,351.35" fill="#2aa066"/>
<polygon points="217.68,356.1 214.95,351.55 220.41,351.55" fill="#2aa066"/>
<polygon points="230.64,356.4 227.91,351.85 233.37,351.85" fill="#2aa066"/>
<polygon points="49.2,317.9 51.7,320.4 49.2,322.9 46.7,320.4" fill="#b170ea"/>
<polygon points="62.16,302.6 64.66,305.1 62.16,307.6 59.66,305.1" fill="#b170ea"/>
<polygon points="75.12,294.3 77.62,296.8 75.12,299.3 72.62,296.8" fill="#b170ea"/>
<polygon points="88.08,295 90.58,297.5 88.08,300 85.58,297.5" fill="#b170ea"/>
<polygon points="101.04,296.5 103.54,299 101.04,301.5 98.54,299" fill="#b170ea"/>
<polygon points="114,295.8 116.5,298.3 114,300.8 111.5,298.3" fill="#b170ea"/>
<polygon points="126.96,299.3 129.46,301.8 126.96,304.3 124.46,301.8" fill="#b170ea"/>
<polygon points="139.92,296.9 142.42,299.4 139.92,301.9 137.42,299.4" fill="#b170ea"/>
<polygon points="152.88,298.2 155.38,300.7 152.88,303.2 150.38,300.7" fill="#b170ea"/>
<polygon points="165.84,298.7 168.34,301.2 165.84,303.7 163.34,301.2" fill="#b170ea"/>
<polygon points="178.8,298.9 181.3,301.4 178.8,303.9 176.3,301.4" fill="#b170ea"/>
<polygon points="191.76,298.9 194.26,301.4 191.76,303.9 189.26,301.4" fill="#b170ea"/>
<polygon points="204.72,298.9 207.22,301.4 204.72,303.9 202.22,301.4" fill="#b170ea"/>
<polygon points="217.68,298.5 220.18,301 217.68,303.5 215.18,301" fill="#b170ea"/>
<polygon points="230.64,299.3 233.14,301.8 230.64,304.3 228.14,301.8" fill="#b170ea"/>
<polygon points="46.6,316 51.15,313.27 51.15,318.73" fill="#d29f10"/>
<polygon points="59.56,313.8 64.11,311.07 64.11,316.53" fill="#d29f10"/>
<polygon points="72.52,315.3 77.07,312.57 77.07,318.03" fill="#d29f10"/>
<polygon points="85.48,316 90.03,313.27 90.03,318.73" fill="#d29f10"/>
<polygon points="98.44,317.1 102.99,314.37 102.99,319.83" fill="#d29f10"/>
<polygon points="111.4,318.6 115.95,315.87 115.95,321.33" fill="#d29f10"/>
<polygon points="124.36,319.3 128.91,316.57 128.91,322.03" fill="#d29f10"/>
<polygon points="137.32,320.4 141.87,317.67 141.87,323.13" fill="#d29f10"/>
<polygon points="150.28,324.1 154.83,321.37 154.83,326.83" fill="#d29f10"/>
<polygon points="163.24,340.4 167.79,337.67 167.79,343.13" fill="#d29f10"/>
<polygon points="176.2,351.3 180.75,348.57 180.75,354.03" fill="#d29f10"/>
<polygon points="189.16,366.4 193.71,363.67 193.71,369.13" fill="#d29f10"/>
<polygon points="202.12,375.5 206.67,372.77 206.67,378.23" fill="#d29f10"/>
<polygon points="215.08,379 219.63,376.27 219.63,381.73" fill="#d29f10"/>
<polygon points="228.04,387.1 232.59,384.37 232.59,389.83" fill="#d29f10"/>
<line x1="48.7" y1="409.8" x2="65.7" y2="409.8" stroke="#666" stroke-width="0.9"/>
<rect x="55.8" y="407.9" width="3.8" height="3.8" fill="#4a4a4a"/>
<text transform="translate(67.6,412.5) scale(1.05,1)" font-size="7.1" font-weight="normal" fill="#333" text-anchor="start" font-family="'Liberation Sans', Arial, sans-serif">Bare Graphite</text>
<line x1="48.7" y1="419.2" x2="65.7" y2="419.2" stroke="#f07070" stroke-width="0.9"/>
<circle cx="57.7" cy="419.2" r="2.3" fill="#ec3a3a"/>
<text transform="translate(67.6,421.9) scale(1.05,1)" font-size="7.1" font-weight="normal" fill="#333" text-anchor="start" font-family="'Liberation Sans', Arial, sans-serif">1% SiO<tspan font-size="0.74em" dy="0.34em">2</tspan><tspan dy="-0.2516em">/C</tspan></text>
<line x1="119.4" y1="409.8" x2="136.4" y2="409.8" stroke="#5a90ee" stroke-width="0.9"/>
<polygon points="128.4,407.2 125.67,411.75 131.13,411.75" fill="#1f6fe6"/>
<text transform="translate(138.3,412.5) scale(1.05,1)" font-size="7.1" font-weight="normal" fill="#333" text-anchor="start" font-family="'Liberation Sans', Arial, sans-serif">3% SiO<tspan font-size="0.74em" dy="0.34em">2</tspan><tspan dy="-0.2516em">/C</tspan></text>
<line x1="119.4" y1="419.2" x2="136.4" y2="419.2" stroke="#5ab88a" stroke-width="0.9"/>
<polygon points="128.4,421.8 125.67,417.25 131.13,417.25" fill="#2aa066"/>
<text transform="translate(138.3,421.9) scale(1.05,1)" font-size="7.1" font-weight="normal" fill="#333" text-anchor="start" font-family="'Liberation Sans', Arial, sans-serif">5% SiO<tspan font-size="0.74em" dy="0.34em">2</tspan><tspan dy="-0.2516em">/C</tspan></text>
<line x1="181.3" y1="409.8" x2="198.3" y2="409.8" stroke="#c49aee" stroke-width="0.9"/>
<polygon points="190.3,407.3 192.8,409.8 190.3,412.3 187.8,409.8" fill="#b170ea"/>
<text transform="translate(200.2,412.5) scale(1.05,1)" font-size="7.1" font-weight="normal" fill="#333" text-anchor="start" font-family="'Liberation Sans', Arial, sans-serif">10% SiO<tspan font-size="0.74em" dy="0.34em">2</tspan><tspan dy="-0.2516em">/C</tspan></text>
<line x1="181.3" y1="419.2" x2="198.3" y2="419.2" stroke="#d2a530" stroke-width="0.9"/>
<polygon points="187.7,419.2 192.25,416.47 192.25,421.93" fill="#d29f10"/>
<text transform="translate(200.2,421.9) scale(1.05,1)" font-size="7.1" font-weight="normal" fill="#333" text-anchor="start" font-family="'Liberation Sans', Arial, sans-serif">30% SiO<tspan font-size="0.74em" dy="0.34em">2</tspan><tspan dy="-0.2516em">/C</tspan></text>
<rect x="318.3" y="300" width="172.1" height="138.6" fill="none" stroke="#111" stroke-width="1.35"/>
<line x1="315.7" y1="438.5" x2="318.3" y2="438.5" stroke="#111" stroke-width="1"/>
<line x1="316.9" y1="424.65" x2="318.3" y2="424.65" stroke="#111" stroke-width="1"/>
<line x1="315.7" y1="410.8" x2="318.3" y2="410.8" stroke="#111" stroke-width="1"/>
<line x1="316.9" y1="396.95" x2="318.3" y2="396.95" stroke="#111" stroke-width="1"/>
<line x1="315.7" y1="383.1" x2="318.3" y2="383.1" stroke="#111" stroke-width="1"/>
<line x1="316.9" y1="369.25" x2="318.3" y2="369.25" stroke="#111" stroke-width="1"/>
<line x1="315.7" y1="355.4" x2="318.3" y2="355.4" stroke="#111" stroke-width="1"/>
<line x1="316.9" y1="341.55" x2="318.3" y2="341.55" stroke="#111" stroke-width="1"/>
<line x1="315.7" y1="327.7" x2="318.3" y2="327.7" stroke="#111" stroke-width="1"/>
<line x1="316.9" y1="313.85" x2="318.3" y2="313.85" stroke="#111" stroke-width="1"/>
<line x1="315.7" y1="300" x2="318.3" y2="300" stroke="#111" stroke-width="1"/>
<text transform="translate(314,440.9) scale(1.1,1)" font-size="6.9" font-weight="bold" fill="#333" text-anchor="end" font-family="'Liberation Sans', Arial, sans-serif">0</text>
<text transform="translate(314,413.2) scale(1.1,1)" font-size="6.9" font-weight="bold" fill="#333" text-anchor="end" font-family="'Liberation Sans', Arial, sans-serif">200</text>
<text transform="translate(314,385.5) scale(1.1,1)" font-size="6.9" font-weight="bold" fill="#333" text-anchor="end" font-family="'Liberation Sans', Arial, sans-serif">400</text>
<text transform="translate(314,357.8) scale(1.1,1)" font-size="6.9" font-weight="bold" fill="#333" text-anchor="end" font-family="'Liberation Sans', Arial, sans-serif">600</text>
<text transform="translate(314,330.1) scale(1.1,1)" font-size="6.9" font-weight="bold" fill="#333" text-anchor="end" font-family="'Liberation Sans', Arial, sans-serif">800</text>
<text transform="translate(314,302.4) scale(1.1,1)" font-size="6.9" font-weight="bold" fill="#333" text-anchor="end" font-family="'Liberation Sans', Arial, sans-serif">1000</text>
<line x1="487.8" y1="439" x2="490.4" y2="439" stroke="#111" stroke-width="1"/>
<line x1="489" y1="426" x2="490.4" y2="426" stroke="#111" stroke-width="1"/>
<line x1="487.8" y1="413" x2="490.4" y2="413" stroke="#111" stroke-width="1"/>
<line x1="489" y1="400" x2="490.4" y2="400" stroke="#111" stroke-width="1"/>
<line x1="487.8" y1="387" x2="490.4" y2="387" stroke="#111" stroke-width="1"/>
<line x1="489" y1="374" x2="490.4" y2="374" stroke="#111" stroke-width="1"/>
<line x1="487.8" y1="361" x2="490.4" y2="361" stroke="#111" stroke-width="1"/>
<line x1="489" y1="348" x2="490.4" y2="348" stroke="#111" stroke-width="1"/>
<line x1="487.8" y1="335" x2="490.4" y2="335" stroke="#111" stroke-width="1"/>
<line x1="489" y1="322" x2="490.4" y2="322" stroke="#111" stroke-width="1"/>
<line x1="487.8" y1="309" x2="490.4" y2="309" stroke="#111" stroke-width="1"/>
<text transform="translate(493.4,442)" font-size="8.5" font-weight="bold" fill="#222" text-anchor="start" font-family="'Liberation Sans', Arial, sans-serif">0</text>
<text transform="translate(493.4,416)" font-size="8.5" font-weight="bold" fill="#222" text-anchor="start" font-family="'Liberation Sans', Arial, sans-serif">20</text>
<text transform="translate(493.4,390)" font-size="8.5" font-weight="bold" fill="#222" text-anchor="start" font-family="'Liberation Sans', Arial, sans-serif">40</text>
<text transform="translate(493.4,364)" font-size="8.5" font-weight="bold" fill="#222" text-anchor="start" font-family="'Liberation Sans', Arial, sans-serif">60</text>
<text transform="translate(493.4,338)" font-size="8.5" font-weight="bold" fill="#222" text-anchor="start" font-family="'Liberation Sans', Arial, sans-serif">80</text>
<text transform="translate(493.4,312)" font-size="8.5" font-weight="bold" fill="#222" text-anchor="start" font-family="'Liberation Sans', Arial, sans-serif">100</text>
<line x1="333.4" y1="438.6" x2="333.4" y2="440" stroke="#111" stroke-width="1"/>
<line x1="349.5" y1="438.6" x2="349.5" y2="441.2" stroke="#111" stroke-width="1"/>
<line x1="365.6" y1="438.6" x2="365.6" y2="440" stroke="#111" stroke-width="1"/>
<line x1="381.7" y1="438.6" x2="381.7" y2="441.2" stroke="#111" stroke-width="1"/>
<line x1="397.8" y1="438.6" x2="397.8" y2="440" stroke="#111" stroke-width="1"/>
<line x1="413.9" y1="438.6" x2="413.9" y2="441.2" stroke="#111" stroke-width="1"/>
<line x1="430" y1="438.6" x2="430" y2="440" stroke="#111" stroke-width="1"/>
<line x1="446.1" y1="438.6" x2="446.1" y2="441.2" stroke="#111" stroke-width="1"/>
<line x1="462.2" y1="438.6" x2="462.2" y2="440" stroke="#111" stroke-width="1"/>
<line x1="478.3" y1="438.6" x2="478.3" y2="441.2" stroke="#111" stroke-width="1"/>
<text transform="translate(349.5,449.8)" font-size="8.2" font-weight="bold" fill="#222" text-anchor="middle" font-family="'Liberation Sans', Arial, sans-serif">10</text>
<text transform="translate(381.7,449.8)" font-size="8.2" font-weight="bold" fill="#222" text-anchor="middle" font-family="'Liberation Sans', Arial, sans-serif">20</text>
<text transform="translate(413.9,449.8)" font-size="8.2" font-weight="bold" fill="#222" text-anchor="middle" font-family="'Liberation Sans', Arial, sans-serif">30</text>
<text transform="translate(446.1,449.8)" font-size="8.2" font-weight="bold" fill="#222" text-anchor="middle" font-family="'Liberation Sans', Arial, sans-serif">40</text>
<text transform="translate(478.3,449.8)" font-size="8.2" font-weight="bold" fill="#222" text-anchor="middle" font-family="'Liberation Sans', Arial, sans-serif">50</text>
<text transform="translate(364.9,462.7) scale(1.03,1)" font-size="9.9" font-weight="bold" fill="#161616" text-anchor="start" font-family="'Liberation Sans', Arial, sans-serif">Cycling Number</text>
<text transform="translate(297.2,414.6) rotate(-90)" font-size="10.3" font-weight="bold" fill="#161616" text-anchor="start" font-family="'Liberation Sans', Arial, sans-serif">Capacity (mAh.g<tspan font-size="0.62em" dy="-0.55em">-1</tspan><tspan dy="0.341em">)</tspan></text>
<text transform="translate(515.8,437) rotate(-90)" font-size="10.3" font-weight="bold" fill="#161616" text-anchor="start" font-family="'Liberation Sans', Arial, sans-serif">Coulombic Efficiency (%)</text>
<polyline points="320.52,363.6 323.74,358.1 326.96,355.2 330.18,355.5 333.4,356 336.62,356 339.84,357.4 343.06,355.9 346.28,356.3 349.5,356.3 352.72,356.3 355.94,356.3 359.16,356.3 362.38,356.3 365.6,356.3 368.82,358.8 372.04,358.8 375.26,358.4 378.48,361 381.7,370 384.92,370 388.14,370 391.36,371 394.58,383 397.8,383.69 401.02,384.32 404.24,384.88 407.46,385.39 410.68,385.85 413.9,386.26 417.12,386.63 420.34,386.97 423.56,387.27 426.78,387.55 430,387.79 433.22,388.01 436.44,388.21 439.66,388.39 442.88,388.56 446.1,388.7 449.32,388.84 452.54,388.96 455.76,389.06 458.98,389.16 462.2,389.25 465.42,389.33 468.64,389.4 471.86,389.46 475.08,389.52 478.3,389.57 481.52,389.62 484.74,389.66 487.96,389.7" fill="none" stroke="#999" stroke-width="0.5" stroke-linejoin="round"/>
<rect x="318.92" y="362.2" width="3.2" height="2.8" fill="#111"/>
<rect x="322.14" y="356.7" width="3.2" height="2.8" fill="#111"/>
<rect x="325.36" y="353.8" width="3.2" height="2.8" fill="#111"/>
<rect x="328.58" y="354.1" width="3.2" height="2.8" fill="#111"/>
<rect x="331.8" y="354.6" width="3.2" height="2.8" fill="#111"/>
<rect x="335.02" y="354.6" width="3.2" height="2.8" fill="#111"/>
<rect x="338.24" y="356" width="3.2" height="2.8" fill="#111"/>
<rect x="341.46" y="354.5" width="3.2" height="2.8" fill="#111"/>
<rect x="344.68" y="354.9" width="3.2" height="2.8" fill="#111"/>
<rect x="347.9" y="354.9" width="3.2" height="2.8" fill="#111"/>
<rect x="351.12" y="354.9" width="3.2" height="2.8" fill="#111"/>
<rect x="354.34" y="354.9" width="3.2" height="2.8" fill="#111"/>
<rect x="357.56" y="354.9" width="3.2" height="2.8" fill="#111"/>
<rect x="360.78" y="354.9" width="3.2" height="2.8" fill="#111"/>
<rect x="364" y="354.9" width="3.2" height="2.8" fill="#111"/>
<rect x="367.22" y="357.4" width="3.2" height="2.8" fill="#111"/>
<rect x="370.44" y="357.4" width="3.2" height="2.8" fill="#111"/>
<rect x="373.66" y="357" width="3.2" height="2.8" fill="#111"/>
<rect x="376.88" y="359.6" width="3.2" height="2.8" fill="#111"/>
<rect x="380.1" y="368.6" width="3.2" height="2.8" fill="#111"/>
<rect x="383.32" y="368.6" width="3.2" height="2.8" fill="#111"/>
<rect x="386.54" y="368.6" width="3.2" height="2.8" fill="#111"/>
<rect x="389.76" y="369.6" width="3.2" height="2.8" fill="#111"/>
<rect x="392.98" y="381.6" width="3.2" height="2.8" fill="#111"/>
<rect x="396.2" y="382.29" width="3.2" height="2.8" fill="#111"/>
<rect x="399.42" y="382.92" width="3.2" height="2.8" fill="#111"/>
<rect x="402.64" y="383.48" width="3.2" height="2.8" fill="#111"/>
<rect x="405.86" y="383.99" width="3.2" height="2.8" fill="#111"/>
<rect x="409.08" y="384.45" width="3.2" height="2.8" fill="#111"/>
<rect x="412.3" y="384.86" width="3.2" height="2.8" fill="#111"/>
<rect x="415.52" y="385.23" width="3.2" height="2.8" fill="#111"/>
<rect x="418.74" y="385.57" width="3.2" height="2.8" fill="#111"/>
<rect x="421.96" y="385.87" width="3.2" height="2.8" fill="#111"/>
<rect x="425.18" y="386.15" width="3.2" height="2.8" fill="#111"/>
<rect x="428.4" y="386.39" width="3.2" height="2.8" fill="#111"/>
<rect x="431.62" y="386.61" width="3.2" height="2.8" fill="#111"/>
<rect x="434.84" y="386.81" width="3.2" height="2.8" fill="#111"/>
<rect x="438.06" y="386.99" width="3.2" height="2.8" fill="#111"/>
<rect x="441.28" y="387.16" width="3.2" height="2.8" fill="#111"/>
<rect x="444.5" y="387.3" width="3.2" height="2.8" fill="#111"/>
<rect x="447.72" y="387.44" width="3.2" height="2.8" fill="#111"/>
<rect x="450.94" y="387.56" width="3.2" height="2.8" fill="#111"/>
<rect x="454.16" y="387.66" width="3.2" height="2.8" fill="#111"/>
<rect x="457.38" y="387.76" width="3.2" height="2.8" fill="#111"/>
<rect x="460.6" y="387.85" width="3.2" height="2.8" fill="#111"/>
<rect x="463.82" y="387.93" width="3.2" height="2.8" fill="#111"/>
<rect x="467.04" y="388" width="3.2" height="2.8" fill="#111"/>
<rect x="470.26" y="388.06" width="3.2" height="2.8" fill="#111"/>
<rect x="473.48" y="388.12" width="3.2" height="2.8" fill="#111"/>
<rect x="476.7" y="388.17" width="3.2" height="2.8" fill="#111"/>
<rect x="479.92" y="388.22" width="3.2" height="2.8" fill="#111"/>
<rect x="483.14" y="388.26" width="3.2" height="2.8" fill="#111"/>
<rect x="486.36" y="388.3" width="3.2" height="2.8" fill="#111"/>
<polyline points="320.52,339.03 323.74,322.65 326.96,317.71 330.18,314.46 333.4,312.38 336.62,312.12 339.84,312.64 343.06,312.51 346.28,312.25 349.5,312.38 352.72,311.99 355.94,312.64 359.16,312.12 362.38,311.86 365.6,311.34 368.82,312.38 372.04,313.16 375.26,312.77 378.48,312.9 381.7,314.2 384.92,312.12 388.14,311.08 391.36,307.05 394.58,311.6 397.8,313.94 401.02,312.9 404.24,312.38 407.46,312.64 410.68,312.12 413.9,312.77 417.12,312.51 420.34,312.64 423.56,312.38 426.78,312.25 430,312.64 433.22,312.77 436.44,312.25 439.66,312.9 442.88,312.51 446.1,312.12 449.32,312.64 452.54,312.38 455.76,312.77 458.98,311.86 462.2,313.55 465.42,312.12 468.64,315.24 471.86,314.98 475.08,312.9 478.3,312.51 481.52,311.86 484.74,311.34 487.96,311.08" fill="none" stroke="#999" stroke-width="0.5" stroke-linejoin="round"/>
<rect x="319.37" y="337.88" width="2.3" height="2.3" fill="#fff" stroke="#777" stroke-width="0.5"/>
<rect x="322.59" y="321.5" width="2.3" height="2.3" fill="#fff" stroke="#777" stroke-width="0.5"/>
<rect x="325.81" y="316.56" width="2.3" height="2.3" fill="#fff" stroke="#777" stroke-width="0.5"/>
<rect x="329.03" y="313.31" width="2.3" height="2.3" fill="#fff" stroke="#777" stroke-width="0.5"/>
<rect x="332.25" y="311.23" width="2.3" height="2.3" fill="#fff" stroke="#777" stroke-width="0.5"/>
<rect x="335.47" y="310.97" width="2.3" height="2.3" fill="#fff" stroke="#777" stroke-width="0.5"/>
<rect x="338.69" y="311.49" width="2.3" height="2.3" fill="#fff" stroke="#777" stroke-width="0.5"/>
<rect x="341.91" y="311.36" width="2.3" height="2.3" fill="#fff" stroke="#777" stroke-width="0.5"/>
<rect x="345.13" y="311.1" width="2.3" height="2.3" fill="#fff" stroke="#777" stroke-width="0.5"/>
<rect x="348.35" y="311.23" width="2.3" height="2.3" fill="#fff" stroke="#777" stroke-width="0.5"/>
<rect x="351.57" y="310.84" width="2.3" height="2.3" fill="#fff" stroke="#777" stroke-width="0.5"/>
<rect x="354.79" y="311.49" width="2.3" height="2.3" fill="#fff" stroke="#777" stroke-width="0.5"/>
<rect x="358.01" y="310.97" width="2.3" height="2.3" fill="#fff" stroke="#777" stroke-width="0.5"/>
<rect x="361.23" y="310.71" width="2.3" height="2.3" fill="#fff" stroke="#777" stroke-width="0.5"/>
<rect x="364.45" y="310.19" width="2.3" height="2.3" fill="#fff" stroke="#777" stroke-width="0.5"/>
<rect x="367.67" y="311.23" width="2.3" height="2.3" fill="#fff" stroke="#777" stroke-width="0.5"/>
<rect x="370.89" y="312.01" width="2.3" height="2.3" fill="#fff" stroke="#777" stroke-width="0.5"/>
<rect x="374.11" y="311.62" width="2.3" height="2.3" fill="#fff" stroke="#777" stroke-width="0.5"/>
<rect x="377.33" y="311.75" width="2.3" height="2.3" fill="#fff" stroke="#777" stroke-width="0.5"/>
<rect x="380.55" y="313.05" width="2.3" height="2.3" fill="#fff" stroke="#777" stroke-width="0.5"/>
<rect x="383.77" y="310.97" width="2.3" height="2.3" fill="#fff" stroke="#777" stroke-width="0.5"/>
<rect x="386.99" y="309.93" width="2.3" height="2.3" fill="#fff" stroke="#777" stroke-width="0.5"/>
<rect x="390.21" y="305.9" width="2.3" height="2.3" fill="#fff" stroke="#777" stroke-width="0.5"/>
<rect x="393.43" y="310.45" width="2.3" height="2.3" fill="#fff" stroke="#777" stroke-width="0.5"/>
<rect x="396.65" y="312.79" width="2.3" height="2.3" fill="#fff" stroke="#777" stroke-width="0.5"/>
<rect x="399.87" y="311.75" width="2.3" height="2.3" fill="#fff" stroke="#777" stroke-width="0.5"/>
<rect x="403.09" y="311.23" width="2.3" height="2.3" fill="#fff" stroke="#777" stroke-width="0.5"/>
<rect x="406.31" y="311.49" width="2.3" height="2.3" fill="#fff" stroke="#777" stroke-width="0.5"/>
<rect x="409.53" y="310.97" width="2.3" height="2.3" fill="#fff" stroke="#777" stroke-width="0.5"/>
<rect x="412.75" y="311.62" width="2.3" height="2.3" fill="#fff" stroke="#777" stroke-width="0.5"/>
<rect x="415.97" y="311.36" width="2.3" height="2.3" fill="#fff" stroke="#777" stroke-width="0.5"/>
<rect x="419.19" y="311.49" width="2.3" height="2.3" fill="#fff" stroke="#777" stroke-width="0.5"/>
<rect x="422.41" y="311.23" width="2.3" height="2.3" fill="#fff" stroke="#777" stroke-width="0.5"/>
<rect x="425.63" y="311.1" width="2.3" height="2.3" fill="#fff" stroke="#777" stroke-width="0.5"/>
<rect x="428.85" y="311.49" width="2.3" height="2.3" fill="#fff" stroke="#777" stroke-width="0.5"/>
<rect x="432.07" y="311.62" width="2.3" height="2.3" fill="#fff" stroke="#777" stroke-width="0.5"/>
<rect x="435.29" y="311.1" width="2.3" height="2.3" fill="#fff" stroke="#777" stroke-width="0.5"/>
<rect x="438.51" y="311.75" width="2.3" height="2.3" fill="#fff" stroke="#777" stroke-width="0.5"/>
<rect x="441.73" y="311.36" width="2.3" height="2.3" fill="#fff" stroke="#777" stroke-width="0.5"/>
<rect x="444.95" y="310.97" width="2.3" height="2.3" fill="#fff" stroke="#777" stroke-width="0.5"/>
<rect x="448.17" y="311.49" width="2.3" height="2.3" fill="#fff" stroke="#777" stroke-width="0.5"/>
<rect x="451.39" y="311.23" width="2.3" height="2.3" fill="#fff" stroke="#777" stroke-width="0.5"/>
<rect x="454.61" y="311.62" width="2.3" height="2.3" fill="#fff" stroke="#777" stroke-width="0.5"/>
<rect x="457.83" y="310.71" width="2.3" height="2.3" fill="#fff" stroke="#777" stroke-width="0.5"/>
<rect x="461.05" y="312.4" width="2.3" height="2.3" fill="#fff" stroke="#777" stroke-width="0.5"/>
<rect x="464.27" y="310.97" width="2.3" height="2.3" fill="#fff" stroke="#777" stroke-width="0.5"/>
<rect x="467.49" y="314.09" width="2.3" height="2.3" fill="#fff" stroke="#777" stroke-width="0.5"/>
<rect x="470.71" y="313.83" width="2.3" height="2.3" fill="#fff" stroke="#777" stroke-width="0.5"/>
<rect x="473.93" y="311.75" width="2.3" height="2.3" fill="#fff" stroke="#777" stroke-width="0.5"/>
<rect x="477.15" y="311.36" width="2.3" height="2.3" fill="#fff" stroke="#777" stroke-width="0.5"/>
<rect x="480.37" y="310.71" width="2.3" height="2.3" fill="#fff" stroke="#777" stroke-width="0.5"/>
<rect x="483.59" y="310.19" width="2.3" height="2.3" fill="#fff" stroke="#777" stroke-width="0.5"/>
<rect x="486.81" y="309.93" width="2.3" height="2.3" fill="#fff" stroke="#777" stroke-width="0.5"/>
<text transform="translate(340.5,351.8)" font-size="8.5" font-weight="bold" fill="#161616" text-anchor="start" font-family="'Liberation Sans', Arial, sans-serif">0.05C</text>
<text transform="translate(380.8,366.9)" font-size="8.6" font-weight="bold" fill="#161616" text-anchor="start" font-family="'Liberation Sans', Arial, sans-serif">0.5C</text>
<text transform="translate(427.2,382.9)" font-size="8.6" font-weight="bold" fill="#161616" text-anchor="start" font-family="'Liberation Sans', Arial, sans-serif">1C</text>
<text transform="translate(430.2,424.8) scale(1.12,1)" font-size="8.2" font-weight="bold" fill="#161616" text-anchor="start" font-family="'Liberation Sans', Arial, sans-serif">10% SiO<tspan font-size="0.74em" dy="0.34em">2</tspan><tspan dy="-0.2516em">/C</tspan></text>
<line x1="482" y1="415" x2="482" y2="429.9" stroke="#555" stroke-width="0.6"/>
<line x1="348.6" y1="365.5" x2="323.7" y2="383.3" stroke="#111" stroke-width="1.2"/>
<polygon points="323.7,383.3 327.24,377.94 329.92,381.68" fill="#111"/>
<line x1="438.9" y1="315.9" x2="484.6" y2="337.1" stroke="#111" stroke-width="1.2"/>
<polygon points="484.6,337.1 478.19,336.66 480.13,332.49" fill="#111"/>
<text transform="translate(126.9,251.6)" font-size="12.4" font-weight="normal" fill="#222" text-anchor="start" font-family="'Liberation Serif', 'Times New Roman', serif">(<tspan font-weight="bold">a</tspan>)</text>
<text transform="translate(400.2,251.6)" font-size="12.4" font-weight="normal" fill="#222" text-anchor="start" font-family="'Liberation Serif', 'Times New Roman', serif">(<tspan font-weight="bold">b</tspan>)</text>
<text transform="translate(126.9,506.7)" font-size="12.4" font-weight="normal" fill="#222" text-anchor="start" font-family="'Liberation Serif', 'Times New Roman', serif">(<tspan font-weight="bold">c</tspan>)</text>
<text transform="translate(400.2,506.7)" font-size="12.4" font-weight="normal" fill="#222" text-anchor="start" font-family="'Liberation Serif', 'Times New Roman', serif">(<tspan font-weight="bold">d</tspan>)</text>
</svg></body></html>
